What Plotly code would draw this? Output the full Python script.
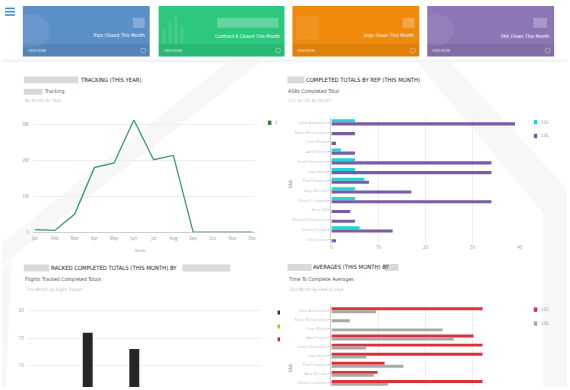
import plotly.graph_objects as go

W, H = 570, 390

# ---------------- data ----------------
months = ["Jan", "Feb", "Mar", "Apr", "May", "Jun", "Jul", "Aug", "Sep", "Oct", "Nov", "Dec"]
tracking = [70000, 50000, 500000, 1800000, 1930000, 3130000, 2020000, 2140000, 0, 0, 0, 0]

reps = ["John Anderson", "Mary Richardson", "Tom Walsh", "Ann Porter", "Kevin Simmons",
        "Lisa Grant", "Paul Stevens", "Amy Brooks", "David Coleman", "Sara Hill",
        "Michael Patterson", "Emma Foster", "Chris Lane"]
completed_121 = [5, 0, 0, 2, 5, 5, 7, 5, 5, 0, 0, 6, 0]
completed_131 = [39, 5, 1, 5, 34, 34, 8, 17, 34, 4, 5, 13, 1]

avg_121 = [32.1, 0, 0, 30.2, 32.1, 32.1, 11.3, 9.8, 32.1, 32.1, 10, 32.1, 8]
avg_131 = [9.5, 3.9, 23.6, 26.0, 7.4, 7.4, 15.3, 9.0, 12, 6, 4, 20, 3]

trackers = ["Tracker A", "Tracker B", "Tracker C", "Tracker D", "Tracker E"]
tracked_done = [4, 16, 13, 3, 2]
tracked_pending = [1, 2, 1, 0, 1]
tracked_late = [0, 1, 0, 1, 0]

cards = ["Trips Closed This Month", "Contract $ Closed This Month",
         "Legs Flown This Month", "PAX Flown This Month"]

# ---------------- helpers ----------------
def X(px):
    return px / W

def Y(py):
    return 1 - py / H

NARROW = "Liberation Sans Narrow, DejaVu Sans Condensed, Arial Narrow, sans-serif"

shapes = []
annotations = []

def rect(x0, y0, x1, y1, color, layer="below", **kw):
    shapes.append(dict(type="rect", xref="paper", yref="paper",
                       x0=X(x0), x1=X(x1), y0=Y(y1), y1=Y(y0),
                       fillcolor=color, line=dict(width=0), layer=layer, **kw))

def text(t, x, y, size, color, anchor="left", family=NARROW, **kw):
    annotations.append(dict(text=t, x=X(x), y=Y(y), xref="paper", yref="paper",
                            xanchor=anchor, yanchor="middle", showarrow=False,
                            borderpad=0, font=dict(size=size, color=color, family=family), **kw))

def poly(points, color):
    d = "M " + " L ".join(f"{X(a)},{Y(b)}" for a, b in points) + " Z"
    shapes.append(dict(type="path", xref="paper", yref="paper", path=d,
                       fillcolor=color, line=dict(width=0), layer="below"))

# ---------------- background watermark ----------------
WM = "#f7f7f7"
poly([(228, 62), (262, 62), (14, 256), (0, 268), (0, 245)], WM)
poly([(0, 270), (10, 262), (4, 390), (0, 390)], WM)
poly([(418, 62), (452, 62), (570, 190), (570, 390), (546, 390), (546, 215)], WM)
rect(0, 60, 570, 62.5, "#f3f3f3")

# hamburger
for yy in (8.5, 11.8, 15.1):
    shapes.append(dict(type="line", xref="paper", yref="paper", x0=X(3), x1=X(13),
                       y0=Y(yy), y1=Y(yy), line=dict(color="#3d8fd8", width=1.6)))

# ---------------- KPI cards ----------------
card_x = [(21, 149), (158, 285), (293, 421), (429, 557)]
card_col = ["#5b8fc8", "#2ec77e", "#f08a0c", "#8c76b4"]
blob_x = [(132, 144), (217, 279), (404, 416), (536, 550)]
for (x0, x1), col, lbl, (bx0, bx1) in zip(card_x, card_col, cards, blob_x):
    rect(x0, 6, x1, 57, col)
    rect(x0, 44, x1, 57, "rgba(0,0,0,0.07)")
    rect(bx0, 18, bx1, 28, "rgba(255,255,255,0.25)")
    text(lbl, x1 - 4, 36, 4.9, "white", anchor="right")
    text("VIEW MORE", x0 + 4, 51, 3.4, "rgba(255,255,255,0.75)", family="Roboto")
    shapes.append(dict(type="circle", xref="paper", yref="paper",
                       x0=X(x1 - 9), x1=X(x1 - 4), y0=Y(53.5), y1=Y(48.5),
                       line=dict(color="rgba(255,255,255,0.45)", width=0.8)))
# faint card icons
shapes.append(dict(type="circle", xref="paper", yref="paper", x0=X(10), x1=X(48), y0=Y(48), y1=Y(14),
                   fillcolor="rgba(255,255,255,0.08)", line=dict(width=0)))
for i, hgt in enumerate([14, 22, 30, 18]):
    rect(162 + i * 6, 44 - hgt, 165 + i * 6, 44, "rgba(255,255,255,0.10)", layer="above")
rect(297, 16, 320, 40, "rgba(255,255,255,0.08)", layer="above")
shapes.append(dict(type="circle", xref="paper", yref="paper", x0=X(420), x1=X(456), y0=Y(46), y1=Y(14),
                   fillcolor="rgba(255,255,255,0.07)", line=dict(width=0)))

# ---------------- chart titles ----------------
BLUR = "#d9d9d9"
TITLE = "#222222"
SUB = "#555555"
DESC = "#bdbdbd"
TS, SS, DS = 5.9, 5.2, 4.5

# chart 1
rect(22, 77, 77, 84, BLUR)
text("TRACKING (THIS YEAR)", 78, 80.5, TS, TITLE)
rect(22, 89.5, 41, 95.5, BLUR)
text("Tracking", 41.5, 92.5, SS, SUB)
text("By Month for Year", 22, 101.5, DS, DESC)

# chart 2
rect(288, 77, 305, 84, BLUR)
text("COMPLETED TOTALS BY REP (THIS MONTH)", 305.5, 80.5, TS, TITLE)
text("ASRs Completed Total", 288, 92.5, SS, SUB)
text("121 vs 131 By Month", 288, 101.5, DS, DESC)

# chart 3
rect(22, 266.5, 47.5, 273.5, BLUR)
text("RACKED COMPLETED TOTALS (THIS MONTH) BY", 48, 270, TS, TITLE)
rect(182, 266.5, 230, 273.5, BLUR)
text("Flights Tracked Completed Totals", 22, 281.5, SS, SUB)
text("This Month by Flight Tracker", 22, 291.5, DS, DESC)

# chart 4
rect(288, 266, 312.5, 273, BLUR)
text("AVERAGES (THIS MONTH) BY", 313, 269.5, TS, TITLE)
rect(386, 266, 400, 273, BLUR)
text("Time To Complete Averages", 288, 281.5, SS, SUB)
text("This Month By EAA In Days", 288, 291.5, DS, DESC)

# ---------------- manual legends ----------------
def legend_item(x, y, color, label):
    rect(x, y - 2.2, x + 3.5, y + 2.2, color, layer="above")
    text(label, x + 6, y, 4.6, "#888888")

legend_item(268.3, 123.7, "#1f8a3e", "1")
legend_item(536.5, 123, "#22d3d8", "121")
legend_item(536.5, 137, "#7c5ba5", "131")
legend_item(536.5, 312, "#d8323c", "121")
legend_item(536.5, 326, "#a8a8a8", "131")
# chart 3 legend (cut off at container edge)
rect(278, 313, 280.5, 317, "#333333", layer="above")
rect(278, 327, 280.5, 331, "#e9b10e", layer="above")
rect(278, 340, 280.5, 344, "#b8322f", layer="above")

# axis titles
text("Month", 140, 252.5, 3.8, "#999999", anchor="center")
text("EAA", 291.5, 185, 4.6, "#777777", anchor="center", textangle=-90)
text("EAA", 291.5, 370.5, 4.6, "#777777", anchor="center", textangle=-90)

# ---------------- traces ----------------
fig = go.Figure()

fig.add_trace(go.Scatter(x=months, y=tracking, mode="lines", name="1",
                         line=dict(color="#3a9a6a", width=1.3),
                         xaxis="x", yaxis="y", showlegend=False))

fig.add_trace(go.Bar(y=reps, x=completed_121, orientation="h", name="121",
                     marker=dict(color="#22d3d8", line=dict(width=0)),
                     xaxis="x2", yaxis="y2", showlegend=False))
fig.add_trace(go.Bar(y=reps, x=completed_131, orientation="h", name="131",
                     marker=dict(color="#7c5ba5", line=dict(width=0)),
                     xaxis="x2", yaxis="y2", showlegend=False))

fig.add_trace(go.Bar(x=trackers, y=tracked_done, name="Completed",
                     marker=dict(color="#262626", line=dict(width=0)),
                     xaxis="x3", yaxis="y3", showlegend=False))
fig.add_trace(go.Bar(x=trackers, y=tracked_pending, name="Pending",
                     marker=dict(color="#e9b10e", line=dict(width=0)),
                     xaxis="x3", yaxis="y3", showlegend=False))
fig.add_trace(go.Bar(x=trackers, y=tracked_late, name="Late",
                     marker=dict(color="#b8322f", line=dict(width=0)),
                     xaxis="x3", yaxis="y3", showlegend=False))

fig.add_trace(go.Bar(y=reps, x=avg_121, orientation="h", name="121",
                     marker=dict(color="#d8323c", line=dict(width=0)),
                     xaxis="x4", yaxis="y4", showlegend=False))
fig.add_trace(go.Bar(y=reps, x=avg_131, orientation="h", name="131",
                     marker=dict(color="#a8a8a8", line=dict(width=0)),
                     xaxis="x4", yaxis="y4", showlegend=False))

TICK = dict(size=4.4, color="#9a9a9a", family="Open Sans, sans-serif")
CAT = dict(size=4.2, color="#c4c4c4", family="Open Sans, sans-serif")
GRID = "#eeeeee"

fig.update_layout(
    width=W, height=H,
    margin=dict(l=0, r=0, t=0, b=0),
    paper_bgcolor="white", plot_bgcolor="rgba(0,0,0,0)",
    barmode="group", bargap=0.36, bargroupgap=0,
    shapes=shapes, annotations=annotations,
    showlegend=False,
    # chart 1
    xaxis=dict(domain=[X(31), X(255)], anchor="y", type="category",
               range=[-0.12, 11.12], showgrid=False, zeroline=False,
               showline=False, tickfont=TICK, ticks="", ticklabelstandoff=2),
    yaxis=dict(domain=[Y(234), Y(114)], anchor="x", range=[0, 3.32e6],
               tickvals=[0, 1e6, 2e6, 3e6], ticktext=["0", "1M", "2M", "3M"],
               showgrid=True, gridcolor=GRID, zeroline=True, zerolinecolor="#cfcfcf",
               zerolinewidth=1, showline=False, tickfont=TICK, ticklabelstandoff=3),
    # chart 2
    xaxis2=dict(domain=[X(332.3), X(522.3)], anchor="y2", range=[0, 40], dtick=10,
                showgrid=True, gridcolor=GRID, zeroline=False, showline=False,
                tickfont=TICK, ticks=""),
    yaxis2=dict(domain=[Y(245.9), Y(118.4)], anchor="x2", type="category",
                range=[12.5, -0.5], showgrid=False, showline=True, linecolor="#d0d0d0",
                linewidth=1, ticks="outside", ticklen=2, tickcolor="#d0d0d0",
                tickfont=CAT),
    # chart 3
    xaxis3=dict(domain=[X(26), X(261)], anchor="y3", type="category",
                range=[-0.5, 4.5], showgrid=False, zeroline=False, showline=False,
                showticklabels=False, ticks=""),
    yaxis3=dict(domain=[0, Y(300)], anchor="x3", range=[6.05, 22.4],
                tickvals=[10, 15, 20], showgrid=True, gridcolor=GRID,
                zeroline=False, showline=False, tickfont=TICK, ticklabelstandoff=3),
    # chart 4
    xaxis4=dict(domain=[X(332.3), X(522.3)], anchor="y4", range=[0, 40], dtick=10,
                showgrid=True, gridcolor=GRID, zeroline=False, showline=False,
                showticklabels=False, ticks=""),
    yaxis4=dict(domain=[0, Y(307.6)], anchor="x4", type="category",
                range=[8.45, -0.55], showgrid=False, showline=True, linecolor="#d0d0d0",
                linewidth=1, ticks="outside", ticklen=2, tickcolor="#d0d0d0",
                tickfont=CAT),
)

fig.write_html("out.html", config={"displayModeBar": False},
               post_script="document.body.style.margin='0px';document.body.style.overflow='hidden';")
